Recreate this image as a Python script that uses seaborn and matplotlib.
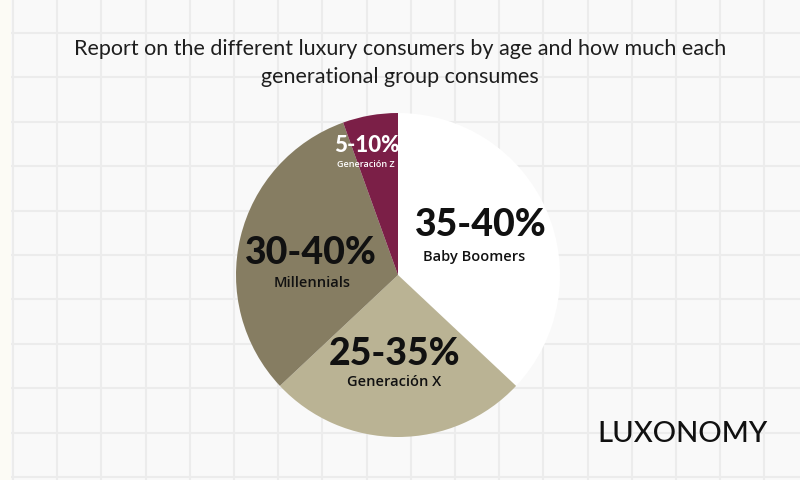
import numpy as np
import matplotlib
matplotlib.use("Agg")
import matplotlib.pyplot as plt
import seaborn as sns

# ---------------------------------------------------------------------------
# Data
# ---------------------------------------------------------------------------
groups = ["Baby Boomers", "Generación X", "Millennials", "Generación Z"]
shares = [37.0, 26.0, 31.5, 5.5]          # slice sizes
ranges = ["35-40%", "25-35%", "30-40%", "5-10%"]
colors = ["#ffffff", "#bab394", "#867d62", "#7b1f47"]

title = ("Report on the different luxury consumers by age and how much each\n"
         "generational group consumes")

sns.set_theme(style="white")
plt.rcParams["font.family"] = ["Lato", "DejaVu Sans"]

W, H = 800, 480
fig = plt.figure(figsize=(8, 4.8), dpi=100)
fig.patch.set_facecolor("#f9f9f9")

# grid paper background
bg = fig.add_axes([0, 0, 1, 1])
bg.set_xlim(0, W)
bg.set_ylim(H, 0)
bg.set_xticks(np.arange(13, W, 44.2))
bg.set_yticks(np.arange(33, H, 44.4))
bg.grid(True, color="#ececec", linewidth=1.5)
bg.tick_params(length=0, labelbottom=False, labelleft=False)
bg.set_facecolor("#f9f9f9")
bg.axvspan(0, 11, color="#fcfbf5", zorder=3, lw=0)
for s in bg.spines.values():
    s.set_visible(False)

bg.text(400, 63, title, ha="center", va="center", fontsize=15.5,
        color="#1e1e1e", linespacing=1.45)
bg.text(683, 434, "LUXONOMY", ha="center", va="center", fontsize=21,
        color="#111111", fontweight="medium")

# pie
cx, cy, r = 398, 275, 162
ax = fig.add_axes([(cx - r) / W, (H - cy - r) / H, 2 * r / W, 2 * r / H])
ax.pie(shares, colors=colors, startangle=90, counterclock=False,
       radius=1, wedgeprops=dict(linewidth=0))
ax.set_xlim(-1, 1)
ax.set_ylim(-1, 1)
ax.set_aspect("equal")
ax.axis("off")

# label positions in pie units (value text, name text)
pct_pos = [(0.51, 0.31), (-0.02, -0.49), (-0.54, 0.135), (-0.19, 0.80)]
name_pos = [(0.47, 0.11), (-0.025, -0.66), (-0.53, -0.05), (-0.20, 0.68)]
pct_size = [27, 27, 27, 16]
name_size = [10.5, 10.5, 10.5, 6.5]
txt_col = ["#111111", "#111111", "#111111", "#ffffff"]

for i in range(len(groups)):
    ax.text(*pct_pos[i], ranges[i], ha="center", va="center",
            fontsize=pct_size[i], fontweight="black", color=txt_col[i])
    ax.text(*name_pos[i], groups[i], ha="center", va="center",
            fontsize=name_size[i], color=txt_col[i], fontweight="semibold",
            family=["Open Sans", "DejaVu Sans"])

fig.savefig("out.png", dpi=100, facecolor=fig.get_facecolor())
